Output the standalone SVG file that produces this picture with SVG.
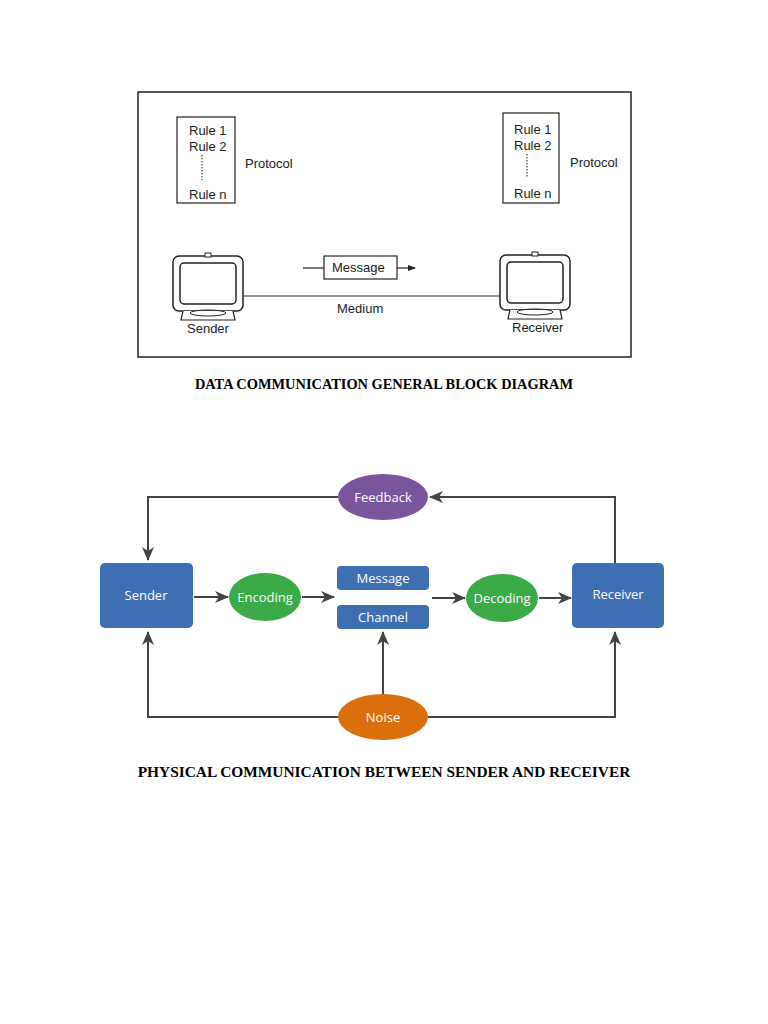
<svg xmlns="http://www.w3.org/2000/svg" width="768" height="1024" viewBox="0 0 768 1024">
<style>
.t{font-family:"Liberation Sans",Arial,sans-serif;font-size:13px;fill:#222}
.w{font-family:"Open Sans","Liberation Sans",sans-serif;font-size:13px;fill:#fff;text-anchor:middle}
.cap{font-family:"Liberation Serif","Times New Roman",serif;font-weight:bold;text-anchor:middle;fill:#000}
.k{fill:none;stroke:#222;stroke-width:1.2}
.g{fill:none;stroke:#444;stroke-width:2}
.blue{fill:#3f6fb3}
.grn{fill:#3bab48}
</style>
<defs>
<marker id="a1" markerWidth="8" markerHeight="8" refX="7" refY="4" orient="auto" markerUnits="userSpaceOnUse"><path d="M0,1 L8,4 L0,7 Z" fill="#222"/></marker>
<marker id="a2" markerWidth="14" markerHeight="14" refX="13" refY="7" orient="auto" markerUnits="userSpaceOnUse"><path d="M0,1 L14,7 L0,13 L4,7 Z" fill="#444"/></marker>
<g id="monitor">
<rect x="0" y="0" width="70" height="55" rx="6" fill="#fff" stroke="#222" stroke-width="1.5"/>
<rect x="7" y="7" width="56" height="41" rx="4" fill="#fff" stroke="#222" stroke-width="1.5"/>
<rect x="32" y="-3" width="6" height="4" fill="#fff" stroke="#222"/>
<path d="M10,55 L8,64 L62,64 L60,55" fill="#fff" stroke="#222" stroke-width="1.2"/>
<ellipse cx="35" cy="57" rx="18" ry="3" fill="none" stroke="#222"/>
</g>
</defs>
<rect width="768" height="1024" fill="#fff"/>
<rect x="138" y="92" width="493" height="265" fill="#fff" stroke="#222" stroke-width="1.5"/>
<g id="protocol-left">
<rect x="177" y="117" width="58" height="86" class="k"/>
<text class="t" x="189" y="135">Rule 1</text>
<text class="t" x="189" y="151">Rule 2</text>
<line x1="202" y1="155" x2="202" y2="180" stroke="#222" stroke-dasharray="1.5,1.5"/>
<text class="t" x="189" y="199">Rule n</text>
<text class="t" x="245" y="168">Protocol</text>
</g>
<g id="protocol-right">
<rect x="503" y="113" width="56" height="90" class="k"/>
<text class="t" x="514" y="134">Rule 1</text>
<text class="t" x="514" y="150">Rule 2</text>
<line x1="527" y1="154" x2="527" y2="178" stroke="#222" stroke-dasharray="1.5,1.5"/>
<text class="t" x="514" y="198">Rule n</text>
<text class="t" x="570" y="167">Protocol</text>
</g>
<g id="sender-pc"><use href="#monitor" x="173" y="256"/><text class="t" x="187" y="333">Sender</text></g>
<g id="receiver-pc"><use href="#monitor" x="500" y="255"/><text class="t" x="512" y="332">Receiver</text></g>
<g id="top-connectors">
<line x1="243" y1="296" x2="500" y2="296" class="k"/>
<line x1="303" y1="268" x2="324" y2="268" class="k"/>
<line x1="397" y1="268" x2="415" y2="268" class="k" marker-end="url(#a1)"/>
</g>
<g id="message-box"><rect x="324" y="256" width="73" height="23" class="k"/><text class="t" x="332" y="272">Message</text></g>
<text class="t" x="337" y="313">Medium</text>
<text class="cap" x="384" y="389" font-size="14.4">DATA COMMUNICATION GENERAL BLOCK DIAGRAM</text>
<g id="connectors">
<polyline points="338,497 148,497 148,560" class="g" marker-end="url(#a2)"/>
<polyline points="615,563 615,497 430,497" class="g" marker-end="url(#a2)"/>
<polyline points="338,717 148,717 148,632" class="g" marker-end="url(#a2)"/>
<polyline points="428,717 615,717 615,632" class="g" marker-end="url(#a2)"/>
<line x1="383" y1="694" x2="383" y2="632" class="g" marker-end="url(#a2)"/>
<line x1="194" y1="597" x2="228" y2="597" class="g" marker-end="url(#a2)"/>
<line x1="302" y1="597" x2="334" y2="597" class="g" marker-end="url(#a2)"/>
<line x1="432" y1="598" x2="465" y2="598" class="g" marker-end="url(#a2)"/>
<line x1="539" y1="598" x2="571" y2="598" class="g" marker-end="url(#a2)"/>
</g>
<g id="sender"><rect x="100" y="563" width="93" height="65" rx="5" class="blue"/><text class="w" x="146" y="600">Sender</text></g>
<g id="encoding"><ellipse cx="265" cy="597" rx="36" ry="24" class="grn"/><text class="w" x="265" y="602">Encoding</text></g>
<g id="message"><rect x="337" y="566" width="92" height="24" rx="4" class="blue"/><text class="w" x="383" y="583">Message</text></g>
<g id="channel"><rect x="337" y="605" width="92" height="24" rx="4" class="blue"/><text class="w" x="383" y="622">Channel</text></g>
<g id="decoding"><ellipse cx="502" cy="598" rx="36" ry="24" class="grn"/><text class="w" x="502" y="603">Decoding</text></g>
<g id="receiver"><rect x="572" y="563" width="92" height="65" rx="5" class="blue"/><text class="w" x="618" y="599">Receiver</text></g>
<g id="feedback"><ellipse cx="383" cy="497" rx="45" ry="23" fill="#7a559e"/><text class="w" x="383" y="502">Feedback</text></g>
<g id="noise"><ellipse cx="383" cy="717" rx="45" ry="23" fill="#db6f0c"/><text class="w" x="383" y="722">Noise</text></g>
<text class="cap" x="384" y="777" font-size="15.4">PHYSICAL COMMUNICATION BETWEEN SENDER AND RECEIVER</text>
</svg>
